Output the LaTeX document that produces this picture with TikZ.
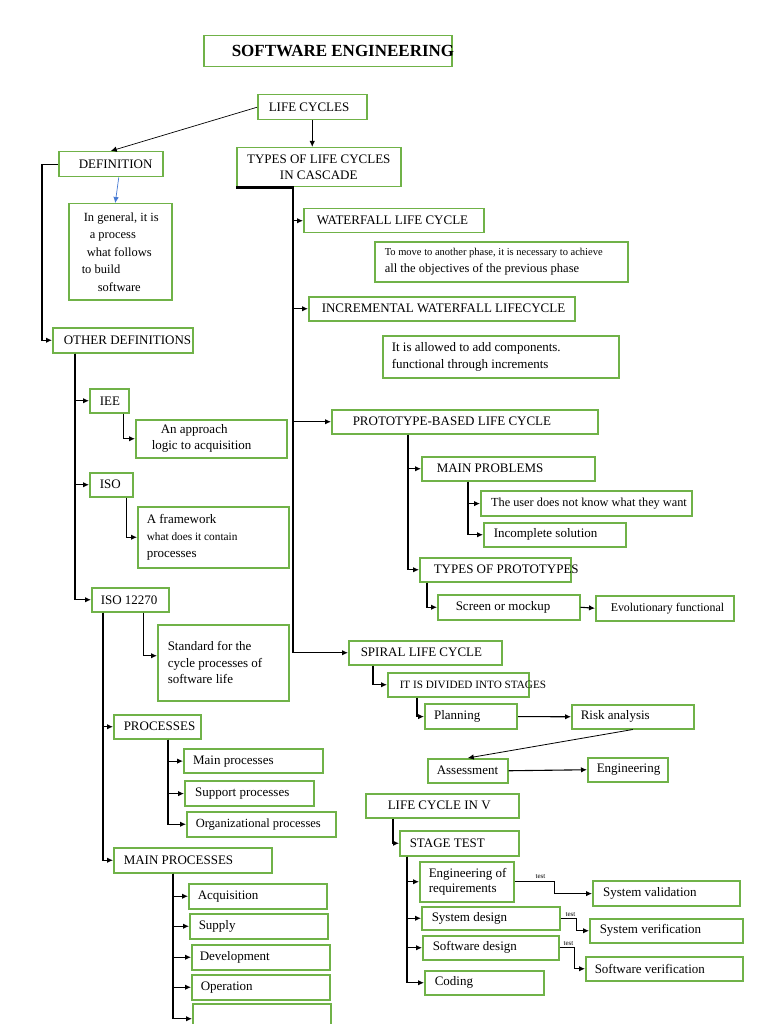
\documentclass[tikz,border=0pt]{standalone}
\usepackage{fontspec}
\setmainfont{Liberation Serif}
\usetikzlibrary{arrows.meta}
\definecolor{boxgreen}{RGB}{112,178,72}
\definecolor{linkblue}{RGB}{68,120,210}
\tikzset{
  box/.style={draw=boxgreen, line width=1.5pt, anchor=north west, inner ysep=1pt, align=flush left,
    font=\fontsize{13}{16}\selectfont, execute at begin node={\hyphenpenalty=10000}},
  thickbox/.style={box, line width=2.2pt},
  arr/.style={-{Latex[length=6pt,width=5.5pt]}, line width=1.1pt},
  spine/.style={line width=2.2pt},
  testlbl/.style={font=\fontsize{7}{8}\selectfont, inner sep=0pt},
}
\begin{document}
\begin{tikzpicture}[x=1pt,y=-1pt]
\fill[white] (0,0) rectangle (768,1024);
\useasboundingbox (0,0) rectangle (768,1024);
% title and top
\node[box, text width=192pt, inner xsep=28pt, minimum height=31pt, font=\bfseries\fontsize{17}{20}\selectfont] (title) at (203,35) {\mbox{SOFTWARE ENGINEERING}};
\node[box, text width=87pt, inner xsep=11pt, minimum height=25pt] (lc) at (257,94) {LIFE CYCLES};
\node[box, text width=64pt, inner xsep=20pt, minimum height=25pt] (def) at (58,151) {DEFINITION};
\node[box, text width=156pt, inner xsep=4pt, minimum height=39pt, align=flush center] (types) at (236,147) {TYPES OF LIFE CYCLES\\IN CASCADE};
\node[box, text width=83pt, inner xsep=10pt, minimum height=96pt, font=\fontsize{12.5}{17.5}\selectfont] (gen) at (68,203)
  {\hspace*{5pt}\mbox{In general, it is}\\\hspace*{11pt}a process\\\hspace*{8pt}what follows\\\hspace*{3pt}to build\\\hspace*{19pt}software};
\draw[arr, line width=0.7pt] (lc.west) -- (def.north);
\draw[arr] (lc.south) -- (lc.south |- types.north);
\draw[arr, linkblue, line width=0.7pt] ([xshift=8pt]def.south) -- ([xshift=-5pt]gen.north);

% left column
\node[box, text width=118pt, inner xsep=11pt, minimum height=25pt] (od) at (52,327) {\mbox{OTHER DEFINITIONS}};
\node[box, text width=19pt, inner xsep=10pt, minimum height=24pt] (iee) at (89,388) {IEE};
\node[box, text width=119pt, inner xsep=16pt, minimum height=38pt] (appr) at (135,419) {\hspace*{9pt}An approach\\logic to acquisition};
\node[box, text width=23pt, inner xsep=10pt, minimum height=24pt] (iso) at (89,472) {ISO};
\node[box, text width=133pt, inner xsep=9pt, minimum height=61pt, font=\fontsize{13}{17}\selectfont] (frame) at (137,506)
  {A framework\\{\fontsize{11.3}{13}\selectfont what does it contain}\\processes};
\node[box, text width=59pt, inner xsep=9pt, minimum height=24pt] (iso12) at (91,587) {\mbox{ISO 12270}};
\node[box, text width=111pt, inner xsep=10pt, minimum height=76pt, font=\fontsize{13}{16.5}\selectfont] (std) at (157,624)
  {Standard for the\\cycle processes of\\software life};
\node[box, text width=67pt, inner xsep=10pt, minimum height=24pt] (proc) at (113,714) {PROCESSES};
\node[thickbox, text width=121pt, inner xsep=9pt, minimum height=24pt] (mainp) at (183,748) {Main processes};
\node[thickbox, text width=109pt, inner xsep=10pt, minimum height=25pt] (supp) at (184,780) {Support processes};
\node[box, text width=131pt, inner xsep=9pt, minimum height=25pt, font=\fontsize{12.5}{15}\selectfont] (org) at (186,811) {\mbox{Organizational processes}};
\node[box, text width=138pt, inner xsep=10pt, minimum height=25pt] (mproc) at (113,847) {MAIN PROCESSES};
\node[box, text width=120pt, inner xsep=9pt, minimum height=25pt] (acq) at (188,883) {Acquisition};
\node[box, text width=120pt, inner xsep=9pt, minimum height=25pt] (sup) at (189,913) {Supply};
\node[box, text width=122pt, inner xsep=8pt, minimum height=25pt] (dev) at (191,944) {Development};
\node[box, text width=120pt, inner xsep=9pt, minimum height=25pt] (ope) at (191,974) {Operation};
\node[box, text width=120pt, inner xsep=9pt, minimum height=30pt] (emp) at (192,1003) {};

\draw[arr] (def.west) -- ++(-16,0) |- (od.west);
\coordinate (odsp) at ([xshift=23pt]od.south west);
\foreach \n in {iee,iso,iso12} \draw[arr] (odsp) |- (\n.west);
\draw[arr] ([xshift=-6pt]iee.south east) |- (appr.west);
\draw[arr] ([xshift=-7pt]iso.south east) |- (frame.west);
\draw[arr] ([xshift=-26pt]iso12.south east) |- ([yshift=7pt]std.west);
\foreach \n in {proc,mproc} \draw[arr] ([xshift=12pt]iso12.south west) |- (\n.west);
\foreach \n in {mainp,supp,org} \draw[arr] ([xshift=55pt]proc.south west) |- (\n.west);
\foreach \n in {acq,sup,dev,ope,emp} \draw[arr] ([xshift=60pt]mproc.south west) |- (\n.west);

% right column
\node[box, text width=154pt, inner xsep=13pt, minimum height=24pt] (wf) at (303,208) {\mbox{WATERFALL LIFE CYCLE}};
\node[box, text width=233pt, inner xsep=10pt, minimum height=40pt, font=\fontsize{12.5}{17}\selectfont] (move) at (374,241)
  {\mbox{\fontsize{10.5}{13}\selectfont To move to another phase, it is necessary to achieve}\\\mbox{all the objectives of the previous phase}};
\node[box, text width=240pt, inner xsep=13pt, minimum height=24pt] (inc) at (308,296) {\mbox{INCREMENTAL WATERFALL LIFECYCLE}};
\node[box, text width=218pt, inner xsep=9pt, minimum height=42pt, font=\fontsize{13}{17}\selectfont] (allow) at (382,335)
  {It is allowed to add components.\\functional through increments};
\node[box, text width=224pt, inner xsep=21pt, minimum height=24pt] (proto) at (331,409) {PROTOTYPE-BASED LIFE CYCLE};
\node[box, text width=143pt, inner xsep=15pt, minimum height=24pt] (mprob) at (421,456) {MAIN PROBLEMS};
\node[thickbox, text width=191pt, inner xsep=10pt, minimum height=25pt, font=\fontsize{12.3}{15}\selectfont] (user) at (480,490) {\mbox{The user does not know what they want}};
\node[box, text width=122pt, inner xsep=10pt, minimum height=24pt] (incomp) at (483,522) {Incomplete solution};
\node[box, text width=123pt, inner xsep=14pt, minimum height=24pt] (tproto) at (419,557) {\mbox{TYPES OF PROTOTYPES}};
\node[box, text width=106pt, inner xsep=18pt, minimum height=25pt] (screen) at (437,594) {Screen or mockup};
\node[box, text width=108pt, inner xsep=15pt, minimum height=25pt, font=\fontsize{11.9}{14}\selectfont] (evol) at (595,595) {\mbox{Evolutionary functional}};
\node[box, text width=129pt, inner xsep=12pt, minimum height=24pt] (spiral) at (348,640) {SPIRAL LIFE CYCLE};
\node[box, text width=117pt, inner xsep=12pt, minimum height=24pt, font=\fontsize{11.2}{13}\selectfont] (divided) at (387,672) {\mbox{IT IS DIVIDED INTO STAGES}};
\node[thickbox, text width=74pt, inner xsep=9pt, minimum height=25pt] (plan) at (424,703) {Planning};
\node[box, text width=104pt, inner xsep=9pt, minimum height=24pt] (risk) at (571,704) {Risk analysis};
\node[box, text width=62pt, inner xsep=9pt, minimum height=24pt] (assess) at (427,758) {\mbox{Assessment}};
\node[box, text width=62pt, inner xsep=9pt, minimum height=24pt] (engin) at (587,757) {\mbox{Engineering}};
\node[box, text width=109pt, inner xsep=22pt, minimum height=24pt] (lcv) at (365,793) {\mbox{LIFE CYCLE IN V}};
\node[box, text width=99pt, inner xsep=10pt, minimum height=25pt] (stage) at (399,830) {STAGE TEST};
\node[box, text width=76pt, inner xsep=9pt, minimum height=40pt, font=\fontsize{13}{15}\selectfont] (req) at (419,861) {\mbox{Engineering of}\\requirements};
\node[thickbox, text width=127pt, inner xsep=10pt, minimum height=25pt] (sval) at (592,880) {System validation};
\node[box, text width=118pt, inner xsep=10pt, minimum height=23pt] (sysd) at (421,906) {System design};
\node[box, text width=133pt, inner xsep=10pt, minimum height=24pt] (sver) at (589,918) {System verification};
\node[box, text width=116pt, inner xsep=10pt, minimum height=24pt] (swd) at (422,935) {Software design};
\node[box, text width=139pt, inner xsep=9pt, minimum height=24pt] (swv) at (585,956) {Software verification};
\node[box, text width=99pt, inner xsep=10pt, minimum height=24pt] (coding) at (424,970) {Coding};

\coordinate (tysp) at ([xshift=57pt]types.south west);
\draw[spine] (types.south west) -- (tysp) -- (tysp |- spiral.west);
\foreach \n in {wf,inc,proto,spiral} \draw[arr] (tysp) |- (\n.west);
\foreach \n in {mprob,tproto} \draw[arr] ([xshift=77pt]proto.south west) |- (\n.west);
\foreach \n in {user,incomp} \draw[arr] ([xshift=47pt]mprob.south west) |- (\n.west);
\draw[arr] ([xshift=8pt]tproto.south west) |- (screen.west);
\draw[arr] (screen.east) -- (evol.west);
\draw[arr] ([xshift=25pt]spiral.south west) |- (divided.west);
\draw[arr] ([xshift=30pt]divided.south west) |- (plan.west);
\draw[arr] (plan.east) -- (risk.west);
\draw[arr, line width=0.8pt] (risk.south) -- (assess.north);
\draw[arr] (assess.east) -- (engin.west);
\draw[arr] ([xshift=28pt]lcv.south west) |- (stage.west);
\foreach \n in {req,sysd,swd,coding} \draw[arr] ([xshift=8pt]stage.south west) |- (\n.west);
\draw[arr] (req.east) -- ++(40,0) |- (sval.west);
\draw[arr] (sysd.east) -- ++(16,0) |- (sver.west);
\draw[arr] (swd.east) -- ++(15,0) |- (swv.west);
\node[testlbl] (t1) at ([xshift=26pt,yshift=5pt]req.east) {test};
\node[testlbl] (t2) at ([xshift=10pt,yshift=4pt]sysd.east) {test};
\node[testlbl] (t3) at ([xshift=9pt,yshift=4pt]swd.east) {test};
\end{tikzpicture}
\end{document}
